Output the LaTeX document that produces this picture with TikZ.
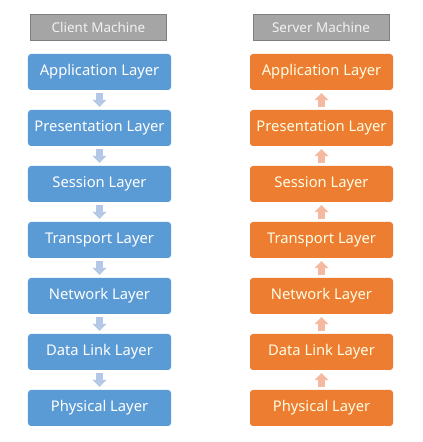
\documentclass[tikz,border=0pt]{standalone}
\usepackage{fontspec}
\setmainfont{Noto Sans}
\usepackage{tikz}
\usetikzlibrary{arrows.meta,positioning}

\definecolor{clientblue}{HTML}{5B9BD5}
\definecolor{serverorange}{HTML}{ED7D31}
\definecolor{headgray}{HTML}{A5A5A5}
\definecolor{headline}{HTML}{7F7F7F}
\definecolor{downblue}{HTML}{B4C7E7}
\definecolor{uporange}{HTML}{F4B9A0}

\tikzset{
	headbox/.style={draw=headline,fill=headgray,text=white!95!black,minimum width=136bp,minimum height=26bp,inner sep=0pt,font=\fontsize{13.5}{15}\selectfont},
	layerbox/.style={rounded corners=3bp,minimum width=143bp,minimum height=36bp,inner sep=0pt,text=white,font=\fontsize{14.8}{17}\selectfont},
	clientbox/.style={layerbox,fill=clientblue},
	serverbox/.style={layerbox,fill=serverorange,text=white!90!yellow},
	blockarrow/.style={line width=7bp,-{Triangle[width=14bp,length=7bp]},shorten <=3bp,shorten >=3bp}
}

\begin{document}
\begin{tikzpicture}[x=1bp,y=1bp]
	\fill[white] (0,0) rectangle (422,442);
	\useasboundingbox (0,0) rectangle (422,442);
	\node[headbox] (client) at (98.5,415) {Client Machine};%
	\node[headbox] (server) at (321,415) {Server Machine};
	\foreach \layer [count=\i] in {Application,Presentation,Session,Transport,Network,Data Link,Physical}
	{
		\node[clientbox] (c\i) at (99.5,426-56*\i) {\layer\ Layer};
		\node[serverbox] (s\i) at (321.5,426-56*\i) {\layer\ Layer};
	}
	\foreach \i [evaluate=\i as \j using int(\i+1)] in {1,...,6}
	{
		\draw[blockarrow,draw=downblue,fill=downblue] (c\i.south) -- (c\j.north);
		\draw[blockarrow,draw=uporange,fill=uporange] (s\j.north) -- (s\i.south);
	}
\end{tikzpicture}
\end{document}
